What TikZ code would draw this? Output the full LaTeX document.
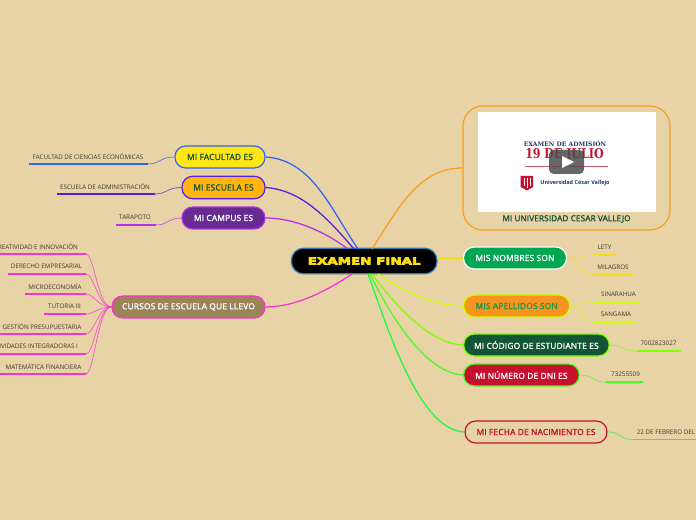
\documentclass[tikz,border=0pt]{standalone}
\usepackage{fontspec}
\setmainfont{Open Sans}
\newfontfamily\semifont[FakeBold=1.8,LetterSpace=2]{Open Sans}
\newfontfamily\titlefont[FakeBold=7,FakeStretch=1.4]{DejaVu Sans Bold}
\newfontfamily\slabfont{DejaVu Serif Bold}
\definecolor{bg}{RGB}{232,211,167}
\definecolor{ink}{RGB}{60,55,45}
\definecolor{cblue}{RGB}{48,100,240}
\definecolor{cindigo}{RGB}{80,30,230}
\definecolor{cpurple}{RGB}{180,50,235}
\definecolor{cmag}{RGB}{250,50,210}
\definecolor{corange}{RGB}{250,160,30}
\definecolor{cyel}{RGB}{250,220,20}
\definecolor{clime}{RGB}{205,255,0}
\definecolor{cgrass}{RGB}{130,255,0}
\definecolor{cgreen}{RGB}{70,255,30}
\definecolor{cneon}{RGB}{30,250,60}
\definecolor{dkgreen}{RGB}{20,85,55}
\definecolor{ured}{RGB}{197,16,46}
\definecolor{unavy}{RGB}{30,55,105}
\definecolor{midgreen}{RGB}{30,150,80}
\tikzset{
  x=0.75pt,y=-0.75pt,
  mainbox/.style={draw,rounded corners=8pt,line width=0.9pt,inner sep=0pt,
    font=\semifont\fontsize{6.3}{7}\selectfont},
  leaflabel/.style={inner sep=0pt,text=ink,font=\fontsize{4.7}{6}\selectfont},
  bar/.style={line width=1.2pt},
  link/.style={line width=0.95pt},
  twig/.style={line width=0.55pt,draw opacity=0.75},
}
\newcommand{\leaf}[7]{% name, x1, x2, y, xc, colour, text
  \coordinate (#1-a) at (#2,#4);
  \coordinate (#1-b) at (#3,#4);
  \draw[bar,#6] (#1-a) -- (#1-b);
  \node[leaflabel] (#1-t) at (#5,#4-7.6) {#7};
}
\begin{document}
\begin{tikzpicture}
\clip (0,0) rectangle (696,520);
\fill[bg] (0,0) rectangle (696,520);

% main nodes
\node[mainbox,fill=black,draw={rgb,255:red,45;green,125;blue,175},rounded corners=9pt,minimum width=145.5*0.75pt,minimum height=25.5*0.75pt,text=cyel,font=\titlefont\fontsize{7.2}{8}\selectfont] (root) at (364.2,261) {EXAMEN FINAL};

\node[mainbox,fill={rgb,255:red,255;green,230;blue,20},draw=cblue,text=dkgreen,minimum width=90*0.75pt,minimum height=22*0.75pt] (fac) at (220,157) {MI FACULTAD ES};
\node[mainbox,fill={rgb,255:red,255;green,180;blue,15},draw=cindigo,text=dkgreen,minimum width=83*0.75pt,minimum height=22.5*0.75pt] (esc) at (223.5,187.5) {MI ESCUELA ES};
\node[mainbox,fill={rgb,255:red,102;green,42;blue,145},draw=cpurple,text=white,minimum width=83*0.75pt,minimum height=22*0.75pt] (cam) at (223.5,218) {MI CAMPUS ES};
\node[mainbox,fill={rgb,255:red,156;green,132;blue,86},draw=cmag,text=white,minimum width=153*0.75pt,minimum height=22*0.75pt] (cur) at (188.5,307) {CURSOS DE ESCUELA QUE LLEVO};

\node[mainbox,draw=corange,rounded corners=15pt,minimum width=207*0.75pt,minimum height=124*0.75pt] (uni) at (566.5,168) {};
\node[mainbox,fill={rgb,255:red,0;green,166;blue,81},draw=white,text=white,minimum width=103*0.75pt,minimum height=22*0.75pt] (nom) at (515,258) {MIS NOMBRES SON};
\node[mainbox,fill={rgb,255:red,247;green,148;blue,29},draw=clime,text=midgreen,minimum width=106*0.75pt,minimum height=22*0.75pt] (ape) at (516.7,306) {MIS APELLIDOS SON};
\node[mainbox,fill=dkgreen,draw=cgrass,text=white,minimum width=145.5*0.75pt,minimum height=22*0.75pt] (cod) at (536.4,345) {MI CÓDIGO DE ESTUDIANTE ES};
\node[mainbox,fill=ured,draw=cgreen,text=white,minimum width=115.5*0.75pt,minimum height=22*0.75pt] (dni) at (521.4,375) {MI NÚMERO DE DNI ES};
\node[mainbox,draw=ured,text=ured,minimum width=142*0.75pt,minimum height=22*0.75pt] (nac) at (536,432) {MI FECHA DE NACIMIENTO ES};

% central connectors
\draw[link,cblue] (fac.east) .. controls (312,160) and (330,208) .. (358,249);
\draw[link,cindigo] (esc.east) .. controls (300,190) and (325,215) .. (354,249);
\draw[link,cpurple] (cam.east) .. controls (295,218) and (325,232) .. (348,249);
\draw[link,cmag] (cur.east) .. controls (295,307) and (325,292) .. (352,274);
\draw[link,corange] (uni.west) .. controls (420,168) and (400,205) .. (372,249);
\draw[link,cyel] (root.east |- nom.west) -- (nom.west);
\draw[link,clime] (378,274) .. controls (405,292) and (435,306) .. (ape.west);
\draw[link,cgrass] (372,274) .. controls (395,305) and (430,344) .. (cod.west);
\draw[link,cgreen] (370,274) .. controls (390,315) and (425,373) .. (dni.west);
\draw[link,cneon] (368,274) .. controls (390,335) and (420,430) .. (nac.west);

% left leaves
\leaf{l1}{29}{148}{164}{88}{cblue}{FACULTAD DE CIENCIAS ECONÓMICAS}
\leaf{l2}{57}{155}{194}{105}{cindigo}{ESCUELA DE ADMINISTRACIÓN}
\leaf{l3}{116}{156}{225}{135}{cpurple}{TARAPOTO}
\draw[twig,cblue] (l1-b) .. controls (160,164) and (160,157) .. (fac.west);
\draw[twig,cindigo] (l2-b) .. controls (167,194) and (167,187.5) .. (esc.west);
\draw[twig,cpurple] (l3-b) .. controls (168,225) and (168,218) .. (cam.west);

\leaf{c1}{-5}{86}{254}{36}{cmag}{CREATIVIDAD E INNOVACIÓN}
\leaf{c2}{8}{86}{274}{46.5}{cmag}{DERECHO EMPRESARIAL}
\leaf{c3}{25}{86}{294}{55}{cmag}{MICROECONOMÍA}
\leaf{c4}{44}{86}{314}{64.5}{cmag}{TUTORIA III}
\leaf{c5}{-5}{86}{334}{42}{cmag}{GESTIÓN PRESUPUESTARIA}
\leaf{c6}{-5}{86}{354}{33}{cmag}{ACTIVIDADES INTEGRADORAS I}
\leaf{c7}{-5}{86}{374}{43.5}{cmag}{MATEMÁTICA FINANCIERA}
\foreach \n in {c1,c2,c3,c4,c5,c6,c7}{
  \draw[twig,cmag] (\n-b) .. controls (94,0 |- \n-b) and (98,307) .. (cur.west);
}

% right leaves
\leaf{r1}{593}{616}{255}{604.5}{cyel}{LETY}
\leaf{r2}{593}{633}{275}{613}{cyel}{MILAGROS}
\leaf{r3}{593}{640}{302}{618.5}{clime}{SINARAHUA}
\leaf{r4}{593}{636}{322}{616}{clime}{SANGAMA}
\leaf{r5}{637}{681}{351}{658.5}{cgrass}{7002823027}
\leaf{r6}{606}{643}{382}{625.5}{cgreen}{73255509}
\leaf{r7}{634}{705}{439.5}{666}{cneon}{22 DE FEBRERO DEL}
\draw[twig,cyel] (nom.east) .. controls (582,258) and (582,255) .. (r1-a);
\draw[twig,cyel] (nom.east) .. controls (582,258) and (578,275) .. (r2-a);
\draw[twig,clime] (ape.east) .. controls (583,306) and (580,302) .. (r3-a);
\draw[twig,clime] (ape.east) .. controls (583,306) and (580,322) .. (r4-a);
\draw[twig,cgrass] (cod.east) .. controls (624,345) and (622,351) .. (r5-a);
\draw[twig,cgreen] (dni.east) .. controls (594,375) and (592,382) .. (r6-a);
\draw[twig,cneon] (nac.east) .. controls (622,432) and (618,439.5) .. (r7-a);

% video thumbnail inside the university node
\fill[white] (478,112) rectangle (655.5,212);
\node[inner sep=0pt,text=unavy,font=\slabfont\fontsize{4.55}{5}\selectfont] (exa) at (565,143.3) {EXAMEN DE ADMISIÓN};
\node[inner sep=0pt,text=ured,font=\slabfont\fontsize{10.1}{11}\selectfont] (jul) at (564.5,155) {\scalebox{0.82}[1]{19 DE JULIO}};
\draw[ured!70,line width=0.4pt] (525,166.5) -- (608,166.5);
\fill[ured] (520.5,176) -- (533,176) -- (533,187) -- (527,190.5) -- (520.5,187) -- cycle;
\draw[white,line width=0.5pt] (524,178) -- (524,186) (527,178) -- (527,188) (530,178) -- (530,186);
\node[inner sep=0pt,text=unavy,font=\fontsize{4.1}{5}\selectfont\bfseries] (uv) at (575,183.2) {Universidad César Vallejo};
\fill[black!70,fill opacity=0.85,rounded corners=3.5pt] (549,150) rectangle (584,174);
\fill[white] (562,156) -- (574,162) -- (562,168) -- cycle;
\node[inner sep=0pt,text=dkgreen,font=\semifont\fontsize{6.1}{7}\selectfont] (unit) at (566.5,219) {MI UNIVERSIDAD CESAR VALLEJO};
\end{tikzpicture}
\end{document}
